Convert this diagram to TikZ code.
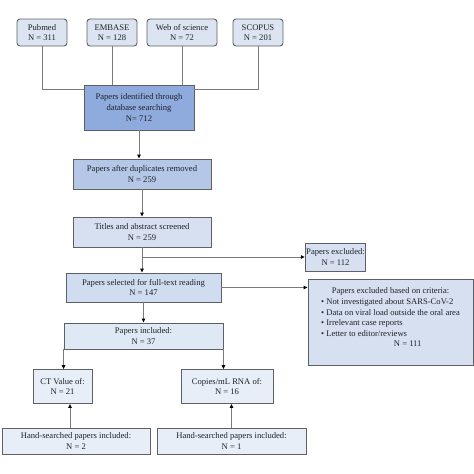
\documentclass[tikz,border=0pt]{standalone}
\usepackage{fontspec}
\setmainfont{Liberation Serif}
\usetikzlibrary{positioning,arrows.meta}

\definecolor{boxgray}{HTML}{5E6066}
\definecolor{linegray}{HTML}{7A7A7A}
\definecolor{textgray}{HTML}{1E2228}
\definecolor{dbfill}{HTML}{DCE4F2}
\definecolor{idfill}{HTML}{8FAADC}
\definecolor{dupfill}{HTML}{B4C7E7}
\definecolor{scrfill}{HTML}{D6E0F1}
\definecolor{selfill}{HTML}{D0DCF0}
\definecolor{incfill}{HTML}{DFE8F5}
\definecolor{endfill}{HTML}{E7EEF8}

\tikzset{
  box/.style={draw=boxgray, line width=0.9pt, align=center, inner sep=1pt,
    text=textgray, font=\fontsize{8.6}{10.6}\selectfont},
  dbbox/.style={box, rounded corners=3pt, fill=dbfill, minimum height=27pt},
  link/.style={draw=linegray, line width=0.9pt},
  arr/.style={link, -{Triangle[length=4pt,width=3.6pt,color=black]}}
}

\begin{document}
\begin{tikzpicture}[x=10pt,y=-10pt]
  \useasboundingbox (0,0) rectangle (47.4,47.4);

  % Databases
  \node[dbbox, minimum width=50pt] (pubmed) at (4.2,3.25) {Pubmed\\N = 311};
  \node[dbbox, minimum width=50pt] (embase) at (11.2,3.25) {EMBASE\\N = 128};
  \node[dbbox, minimum width=70pt] (wos) at (18.2,3.25) {Web of science\\N = 72};
  \node[dbbox, minimum width=50pt] (scopus) at (25.8,3.25) {SCOPUS\\N = 201};

  % Main flow
  \node[box, fill=idfill, minimum width=110pt, minimum height=45pt] (ident) at (13.9,10.75)
    {Papers identified through\\database searching\\N= 712};
  \node[box, fill=dupfill, minimum width=138pt, minimum height=30pt] (dupl) at (14.2,17.4)
    {Papers after duplicates removed\\N = 259};
  \node[box, fill=scrfill, minimum width=138pt, minimum height=30pt] (screen) at (14.2,23.2)
    {Titles and abstract screened\\N = 259};
  \node[box, fill=selfill, minimum width=155pt, minimum height=29pt] (select) at (14.35,28.75)
    {Papers selected for full-text reading\\N = 147};
  \node[box, fill=incfill, minimum width=159pt, minimum height=26pt] (incl) at (14.35,33.6)
    {Papers included:\\N = 37};

  % Exclusions
  \node[box, fill=scrfill, minimum width=55pt, minimum height=28pt] (excl) at (33.55,25.7)
    {Papers excluded:\\N = 112};
  \node[box, fill=scrfill, minimum width=165pt, minimum height=86pt] (crit) at (39.05,32.2)
    {Papers excluded based on criteria:\\[1pt]
     \begin{tabular}{@{}l@{}}
       • Not investigated about SARS-CoV-2\\
       • Data on viral load outside the oral area\\
       • Irrelevant case reports\\
       • Letter to editor/reviews
     \end{tabular}\\
     \hspace*{4em}N = 111\\
     \rule{0pt}{9pt}};

  % Outcome groups
  \node[box, fill=endfill, minimum width=59pt, minimum height=34pt] (ct) at (6.25,38.65)
    {CT Value of:\\N = 21};
  \node[box, fill=endfill, minimum width=92pt, minimum height=34pt] (copies) at (22.7,38.65)
    {Copies/mL RNA of:\\N = 16};
  \node[box, fill=endfill, minimum width=148pt, minimum height=26pt] (hand1) at (7.6,44.1)
    {Hand-searched papers included:\\N = 2};
  \node[box, fill=endfill, minimum width=149pt, minimum height=26pt] (hand2) at (23.15,44.1)
    {Hand-searched papers included:\\N = 1};

  % Database joins
  \draw[link] (pubmed.south) |- ([yshift=-5pt]ident.north west);
  \draw[link] (embase.south) -- (embase.south |- ident.north);
  \draw[link] (wos.south) -- (wos.south |- ident.north);
  \draw[link] (scopus.south) |- ([yshift=-5pt]ident.north east);

  % Arrows
  \draw[arr] (ident.south) -- (ident.south |- dupl.north);
  \draw[arr] (dupl.south) -- (dupl.south |- screen.north);
  \draw[arr] (screen.south) -- (screen.south |- select.north);
  \draw[arr] (screen.south |- excl.west) -- (excl.west);
  \draw[arr] (select.east) -- (select.east -| crit.west);
  \draw[arr] (select.south) -- (select.south |- incl.north);
  \draw[arr] (incl.south west) -- (incl.south west |- ct.north);
  \draw[arr] (incl.south east) -- (incl.south east |- copies.north);
  \draw[arr] ([xshift=-6pt]hand1.north) -- ([xshift=-6pt]hand1.north |- ct.south);
  \draw[arr] (hand2.north) -- (hand2.north |- copies.south);
\end{tikzpicture}
\end{document}
